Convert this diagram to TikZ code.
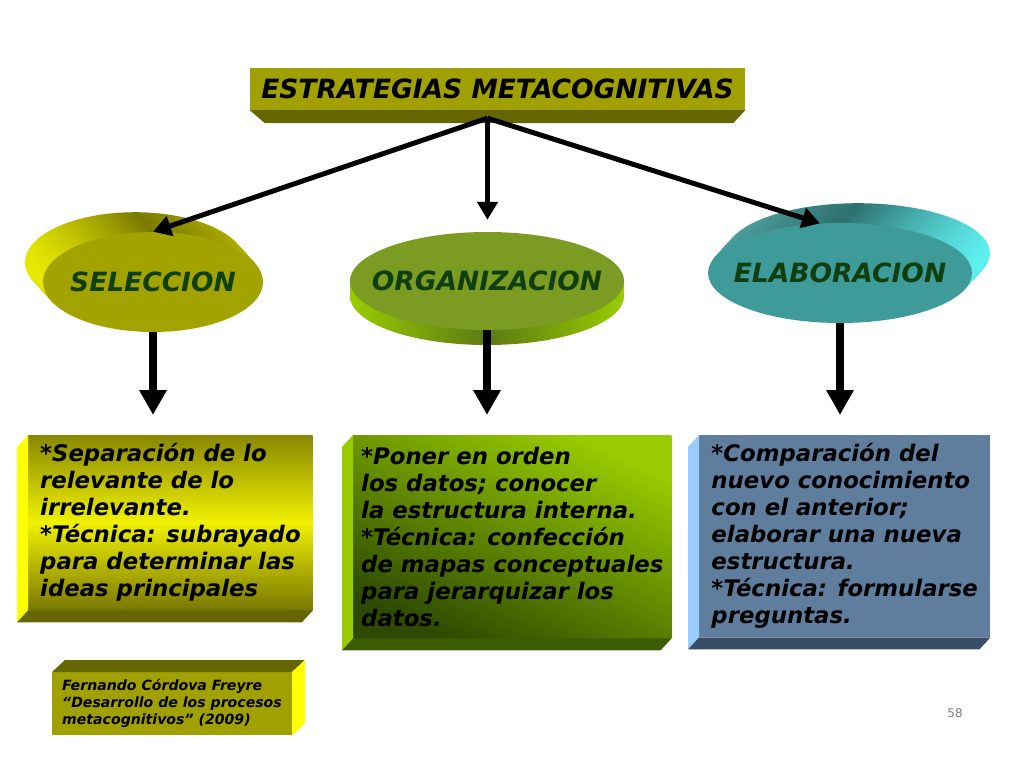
\documentclass[tikz,border=0pt]{standalone}
\usepackage{fontspec}
\setmainfont{DejaVu Sans}
\usetikzlibrary{arrows.meta,positioning,calc,shapes.geometric,backgrounds}
\definecolor{olivefront}{HTML}{A0A000}
\definecolor{olivedark}{HTML}{666600}
\definecolor{yellowside}{HTML}{FFFF00}
\definecolor{selfront}{HTML}{A3A300}
\definecolor{selside}{HTML}{E8E800}
\definecolor{selshadow}{HTML}{7A7A00}
\definecolor{orgfront}{HTML}{7B9B22}
\definecolor{orgside}{HTML}{99CC00}
\definecolor{orgshadow}{HTML}{5C7A15}
\definecolor{elafront}{HTML}{3F9A9A}
\definecolor{elaside}{HTML}{5FF0F0}
\definecolor{elashadow}{HTML}{2F7070}
\definecolor{labelgreen}{HTML}{0F3F0F}
\definecolor{greendark}{HTML}{2E4A00}
\definecolor{greenbottom}{HTML}{3D5C00}
\definecolor{steel}{HTML}{5F7E9E}
\definecolor{steellight}{HTML}{99CCFF}
\definecolor{steeldark}{HTML}{3A4D66}

\begin{document}
\begin{tikzpicture}[x=1pt,y=-1pt,
    every node/.style={font=\bfseries\itshape},
    oval/.style={ellipse, inner sep=0pt, text=labelgreen,
      font=\fontsize{26.5}{30}\selectfont\bfseries\itshape},
    card/.style={anchor=north west, inner xsep=12pt, inner ysep=0pt, align=left,
      font=\fontsize{22.8}{27}\selectfont\bfseries\itshape},
    branch/.style={-{Triangle[length=18pt,width=20pt]}, line width=5pt},
    drop/.style={-{Triangle[length=25pt,width=26pt]}, line width=8pt, shorten >=20pt}]
  \useasboundingbox (0,0) rectangle (1024,768);

  \node[fill=olivefront, minimum width=495pt, minimum height=42pt, inner sep=0pt,
        font=\fontsize{26.5}{30}\selectfont\bfseries\itshape] (title) at (497.5,89)
    {ESTRATEGIAS METACOGNITIVAS};
  \fill[olivedark] (title.south west) -- (title.south east) -- ++(-12,13)
    -- ($(title.south west)+(15,13)$) -- cycle;
  \coordinate (hub) at ($(title.south)+(-10,8)$);

  \node[oval, fill=selfront, minimum width=220pt, minimum height=100pt] (sel) at (153,282) {\makebox[0pt]{SELECCION}};
  \node[oval, fill=orgfront, minimum width=274pt, minimum height=98pt] (org) at (487,281) {\makebox[0pt]{ORGANIZACION}};
  \node[oval, fill=elafront, minimum width=264pt, minimum height=100pt] (ela) at (840,273) {\makebox[0pt]{ELABORACION}};

  \begin{scope}[on background layer]
    \foreach \k in {12,...,1} {
      \shade[left color=selside, right color=selfront!80!yellow, middle color=selshadow]
        ($(sel.center)+(-1.5*\k,-1.65*\k)$) ellipse [x radius=110pt, y radius=50pt];
      \shade[left color=orgside, right color=orgside, middle color=orgshadow]
        ($(org.center)+(0,1.25*\k)$) ellipse [x radius=137pt, y radius=49pt];
      \shade[left color=elafront!90!white, right color=elaside, middle color=elashadow]
        ($(ela.center)+(1.5*\k,-1.65*\k)$) ellipse [x radius=132pt, y radius=50pt];
    }
  \end{scope}

  \draw[branch] (hub) -- (sel.north);
  \draw[branch] (hub) -- ([yshift=12pt]hub |- org.north);
  \draw[branch] (hub) -- (ela.112);

  \node[card, minimum width=284pt, minimum height=175pt,
        top color=olivefront!85!black, bottom color=olivefront!75!black, middle color=yellowside!85!olivefront]
    (selbox) at (28,435)
    {*Separación de lo\\relevante de lo\\irrelevante.\\*Técnica: subrayado\\para determinar las\\ideas principales};
  \node[card, inner xsep=8pt, minimum width=318pt, minimum height=203pt,
        top color=orgside, bottom color=greendark, shading angle=-25]
    (orgbox) at (353,435)
    {*Poner en orden\\los datos; conocer\\la estructura interna.\\*Técnica: confección\\de mapas conceptuales\\para jerarquizar los\\datos.};
  \node[card, minimum width=291pt, minimum height=202pt, fill=steel]
    (elabox) at (699,435)
    {*Comparación del\\nuevo conocimiento\\con el anterior;\\elaborar una nueva\\estructura.\\*Técnica: formularse\\preguntas.};

  \foreach \b/\l/\d in {selbox/yellowside/olivedark, orgbox/orgside/greenbottom, elabox/steellight/steeldark} {
    \fill[\l] (\b.north west) -- ++(-11,12) -- ($(\b.south west)+(-11,12)$) -- (\b.south west) -- cycle;
    \fill[\d] (\b.south west) -- ++(-11,12) -- ($(\b.south east)+(-11,12)$) -- (\b.south east) -- cycle;
  }

  \draw[drop] (sel.south) -- (sel.south |- selbox.north);
  \draw[drop] (org.south) -- (org.south |- orgbox.north);
  \draw[drop] (ela.south) -- (ela.south |- elabox.north);

  \node[anchor=north west, fill=olivefront, minimum width=238pt, minimum height=63pt,
        inner xsep=10pt, inner ysep=0pt, align=left,
        font=\fontsize{14.1}{17}\selectfont\bfseries\itshape] (refbox) at (52,672)
    {Fernando Córdova Freyre\\“Desarrollo de los procesos\\metacognitivos” (2009)};
  \fill[olivedark] (refbox.north west) -- ++(13,-12) -- ($(refbox.north east)+(13,-12)$)
    -- (refbox.north east) -- cycle;
  \fill[yellowside] (refbox.north east) -- ++(13,-12) -- ($(refbox.south east)+(13,-12)$)
    -- (refbox.south east) -- cycle;

  \node[font=\fontsize{12}{14}\selectfont, text=gray] (page) at (955,713) {58};
\end{tikzpicture}
\end{document}
